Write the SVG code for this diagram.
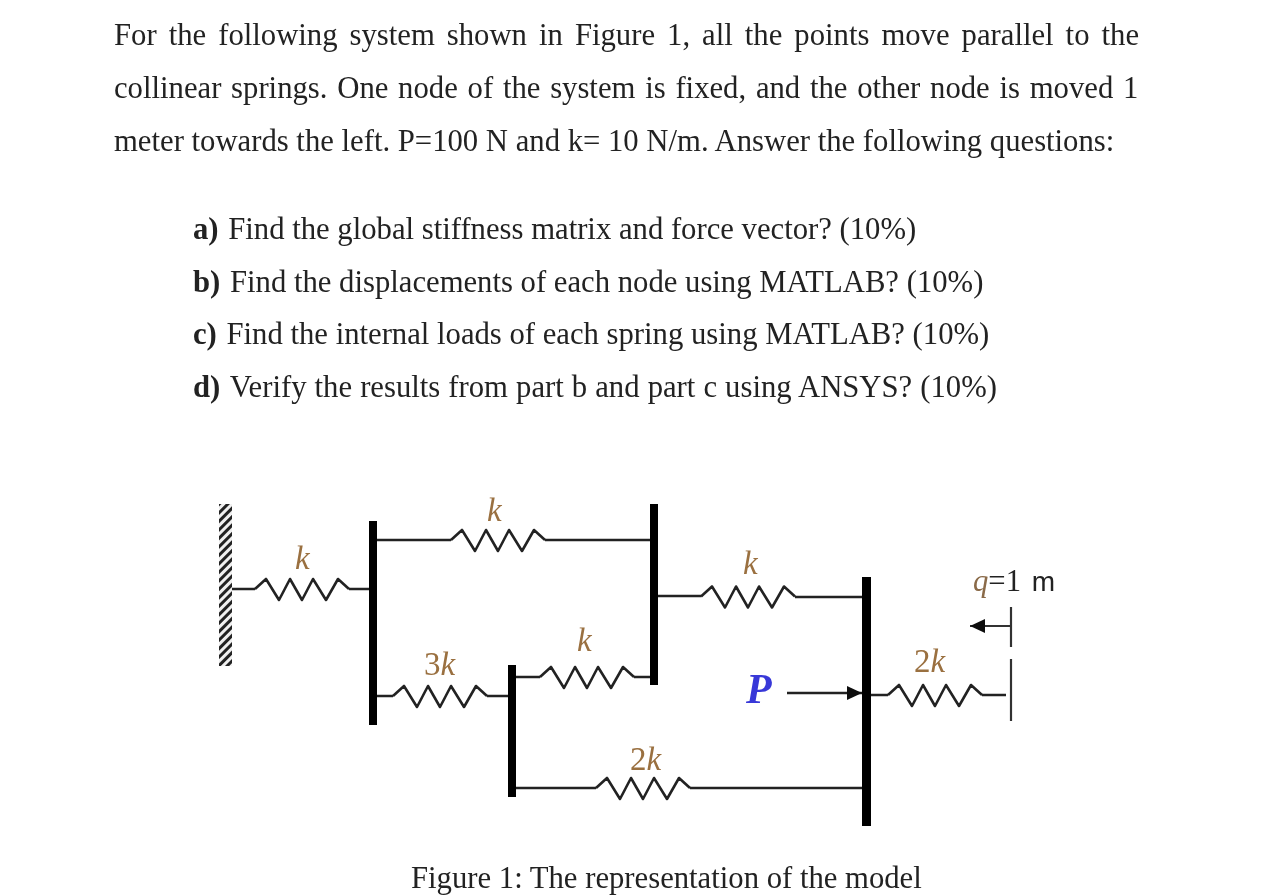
<svg xmlns="http://www.w3.org/2000/svg" width="1284" height="895" viewBox="0 0 1284 895">
<style>
text{font-family:"Liberation Serif","Times New Roman",serif;fill:#222}
.p{font-size:30.7px}
.k{font-size:33px;font-style:italic;fill:#9a7040}
.k tspan.n{font-style:normal}
.bar{fill:#000}
.w{fill:none;stroke:#222;stroke-width:2.6;stroke-linejoin:round}
.t{fill:none;stroke:#333;stroke-width:2.2}
.soft{filter:url(#soft)}
</style>
<defs>
<filter id="soft" x="0" y="0" width="1284" height="895" filterUnits="userSpaceOnUse"><feGaussianBlur stdDeviation="0.45"/></filter>
<path id="spring" d="M0 0L11-10L24 11L35-10L47 11L58-10L71 11L83-10L94 0"/>
<pattern id="hatch" width="6" height="6" patternUnits="userSpaceOnUse" patternTransform="rotate(-45)">
<rect width="6" height="6" fill="#f0f0f0"/><rect width="6" height="3" fill="#222"/>
</pattern>
<marker id="head" markerUnits="userSpaceOnUse" markerWidth="16" markerHeight="14" refX="15" refY="7" orient="auto"><path d="M0 0L15 7L0 14Z" fill="#111"/></marker>
</defs>

<g id="question" class="soft">
<text class="p" x="114" y="45" word-spacing="4.36">For the following system shown in Figure 1, all the points move parallel to the</text>
<text class="p" x="114" y="98" word-spacing="2.1">collinear springs. One node of the system is fixed, and the other node is moved 1</text>
<text class="p" x="114" y="151">meter towards the left. P=100 N and k= 10 N/m. Answer the following questions:</text>
<text class="p" x="193" y="239"><tspan font-weight="bold">a)</tspan><tspan dx="2"> Find the global stiffness matrix and force vector? (10%)</tspan></text>
<text class="p" x="193" y="292"><tspan font-weight="bold">b)</tspan><tspan dx="2"> Find the displacements of each node using MATLAB? (10%)</tspan></text>
<text class="p" x="193" y="344"><tspan font-weight="bold">c)</tspan><tspan dx="2"> Find the internal loads of each spring using MATLAB? (10%)</tspan></text>
<text class="p" x="193" y="397" word-spacing="0.4"><tspan font-weight="bold">d)</tspan><tspan dx="2"> Verify the results from part b and part c using ANSYS? (10%)</tspan></text>
</g>

<g id="wall" class="soft"><rect x="219" y="504" width="13" height="162" fill="url(#hatch)"/></g>
<g id="plate-1" class="soft"><rect class="bar" x="369" y="521" width="8" height="204"/></g>
<g id="plate-2" class="soft"><rect class="bar" x="650" y="504" width="8" height="181"/></g>
<g id="plate-3" class="soft"><rect class="bar" x="508" y="665" width="8" height="132"/></g>
<g id="plate-4" class="soft"><rect class="bar" x="862" y="577" width="9" height="249"/></g>

<g id="connectors" class="soft">
<g class="w">
<path d="M232 589H255M349 589H369"/><use href="#spring" x="255" y="589"/>
<path d="M377 540H451M545 540H650"/><use href="#spring" x="451" y="540"/>
<path d="M377 696H393M487 696H508"/><use href="#spring" x="393" y="696"/>
<path d="M516 677H540M634 677H650"/><use href="#spring" x="540" y="677"/>
<path d="M658 596H701M795 597H862"/><use href="#spring" x="701" y="596.500"/>
<path d="M516 788H596M690 788H862"/><use href="#spring" x="596" y="788"/>
<path d="M871 695H888M982 695H1006"/><use href="#spring" x="888" y="695"/>
</g>
<path class="w" d="M787 693H862" marker-end="url(#head)"/>
<path class="t" d="M1011 659V721M1011 607V647"/>
<path class="t" d="M1011 626H970" marker-end="url(#head)"/>
</g>

<g id="labels" class="soft">
<text class="k" x="295" y="569">k</text>
<text class="k" x="487" y="521">k</text>
<text class="k" x="577" y="651">k</text>
<text class="k" x="743" y="574">k</text>
<text class="k" x="424" y="675"><tspan class="n">3</tspan>k</text>
<text class="k" x="630" y="770"><tspan class="n">2</tspan>k</text>
<text class="k" x="914" y="672"><tspan class="n">2</tspan>k</text>
<text x="746" y="703" style="font-size:42px;font-weight:bold;font-style:italic;fill:#3838d8">P</text>
<text x="973" y="591" style="font-size:30.7px"><tspan font-style="italic" fill="#8a6a48">q</tspan>=1<tspan dx="3" style="font-family:'Liberation Sans',Arial,sans-serif;font-size:28px"> m</tspan></text>
<text class="p" x="411" y="888">Figure 1: The representation of the model</text>
</g>
</svg>
